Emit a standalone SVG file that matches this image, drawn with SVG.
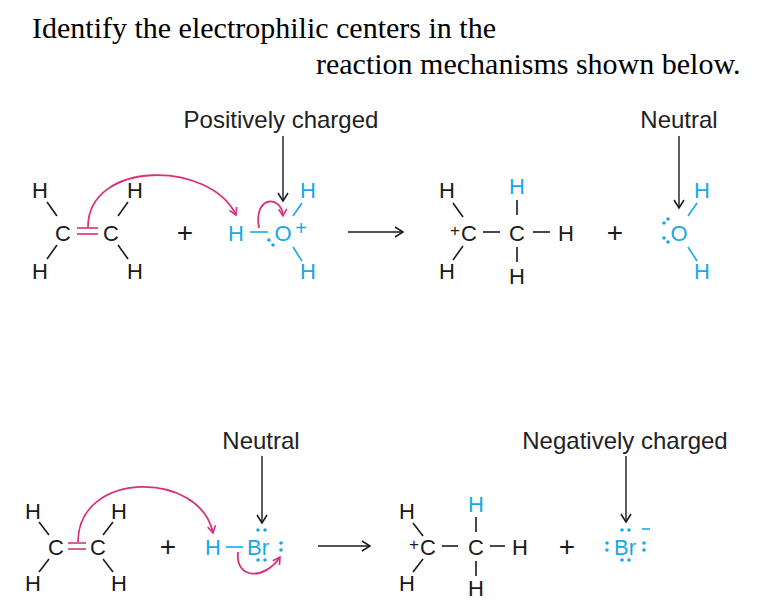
<svg xmlns="http://www.w3.org/2000/svg" width="765" height="612" viewBox="0 0 765 612">
<defs>
<style>
.t{font-family:"Liberation Serif",serif;font-size:30px;fill:#000}
.c{font-family:"Liberation Sans",Arial,sans-serif;font-size:22px;fill:#1a1a1a;text-anchor:middle}
.pl{font-family:"Liberation Sans",Arial,sans-serif;font-size:28px;fill:#1a1a1a;text-anchor:middle}
.b{fill:#1aa8e6}
.lb{font-family:"Liberation Sans",Arial,sans-serif;font-size:24px;fill:#222;text-anchor:middle}
.k{stroke:#1a1a1a;stroke-width:1.6;fill:none}
.kb{stroke:#1aa8e6;stroke-width:1.6;fill:none}
.p{stroke:#d9307a;stroke-width:1.8;fill:none;marker-end:url(#pa)}
.ar{stroke:#1a1a1a;stroke-width:1.4;fill:none;marker-end:url(#ka)}
</style>
<marker id="pa" markerWidth="10" markerHeight="10" refX="8" refY="5" orient="auto" markerUnits="userSpaceOnUse"><path d="M1,1 L8,5 L1,9" fill="none" stroke="#d9307a" stroke-width="1.6"/></marker>
<marker id="ka" markerWidth="12" markerHeight="12" refX="10" refY="6" orient="auto" markerUnits="userSpaceOnUse"><path d="M2,1 L10,6 L2,11" fill="none" stroke="#1a1a1a" stroke-width="1.5"/></marker>
</defs>
<rect width="765" height="612" fill="#fff"/>
<text class="t" x="32" y="38">Identify the electrophilic centers in the</text>
<text class="t" x="316" y="74">reaction mechanisms shown below.</text>

<g id="labels">
<text class="lb" x="281" y="128">Positively charged</text>
<text class="lb" x="679" y="128">Neutral</text>
<text class="lb" x="261" y="449">Neutral</text>
<text class="lb" x="625" y="449">Negatively charged</text>
</g>

<g id="ethene1">
<text class="c" x="40" y="198">H</text><text class="c" x="135" y="198">H</text>
<text class="c" x="40" y="279">H</text><text class="c" x="135" y="279">H</text>
<text class="c" x="63" y="241">C</text><text class="c" x="111" y="241">C</text>
<line class="k" x1="47" y1="202" x2="57" y2="216"/><line class="k" x1="128" y1="202" x2="118" y2="216"/>
<line class="k" x1="57" y1="245" x2="47" y2="259"/><line class="k" x1="118" y1="245" x2="128" y2="259"/>
<line x1="77" y1="228" x2="98" y2="228" stroke="#d9307a" stroke-width="1.6"/>
<line x1="77" y1="234" x2="98" y2="234" stroke="#d9307a" stroke-width="1.6"/>
</g>
<text class="pl" x="185" y="242">+</text>
<g id="hydronium">
<text class="c b" x="236" y="241">H</text>
<line class="kb" x1="250" y1="232" x2="268" y2="232"/>
<text class="c b" x="283" y="241">O</text>
<text class="c b" x="301" y="235" style="font-size:20px">+</text>
<circle cx="269" cy="240" r="1.8" fill="#1aa8e6"/><circle cx="273" cy="245" r="1.8" fill="#1aa8e6"/>
<text class="c b" x="308" y="198">H</text><text class="c b" x="308" y="279">H</text>
<line class="kb" x1="302" y1="203" x2="293" y2="216"/><line class="kb" x1="293" y1="247" x2="302" y2="261"/>
</g>
<line class="ar" x1="348" y1="232" x2="403" y2="232"/>
<g id="cation1">
<text class="c" x="447" y="198">H</text><text class="c" x="447" y="279">H</text>
<text class="c" x="455" y="236" style="font-size:17px">+</text>
<text class="c" x="469" y="241">C</text>
<line class="k" x1="453" y1="203" x2="463" y2="217"/><line class="k" x1="463" y1="246" x2="453" y2="260"/>
<line class="k" x1="483" y1="232" x2="500" y2="232"/>
<text class="c" x="517" y="241">C</text>
<line class="k" x1="533" y1="232" x2="550" y2="232"/>
<text class="c" x="566" y="241">H</text>
<text class="c b" x="517" y="194">H</text>
<line class="k" x1="517" y1="200" x2="517" y2="215"/>
<line class="k" x1="517" y1="247" x2="517" y2="262"/>
<text class="c" x="517" y="284">H</text>
</g>
<text class="pl" x="615" y="242">+</text>
<g id="water">
<text class="c b" x="679" y="241">O</text>
<circle cx="664" cy="223" r="1.8" fill="#1aa8e6"/><circle cx="668" cy="219" r="1.8" fill="#1aa8e6"/>
<circle cx="664" cy="238" r="1.8" fill="#1aa8e6"/><circle cx="668" cy="242" r="1.8" fill="#1aa8e6"/>
<text class="c b" x="702" y="198">H</text><text class="c b" x="702" y="279">H</text>
<line class="kb" x1="697" y1="203" x2="688" y2="216"/><line class="kb" x1="688" y1="247" x2="697" y2="261"/>
</g>

<g id="ethene2">
<text class="c" x="33" y="519">H</text><text class="c" x="119" y="519">H</text>
<text class="c" x="33" y="591">H</text><text class="c" x="119" y="591">H</text>
<text class="c" x="56" y="555">C</text><text class="c" x="98" y="555">C</text>
<line class="k" x1="39" y1="522" x2="49" y2="535"/><line class="k" x1="113" y1="522" x2="103" y2="535"/>
<line class="k" x1="49" y1="559" x2="39" y2="572"/><line class="k" x1="103" y1="559" x2="113" y2="572"/>
<line x1="68" y1="543" x2="86" y2="543" stroke="#d9307a" stroke-width="1.6"/>
<line x1="68" y1="549" x2="86" y2="549" stroke="#d9307a" stroke-width="1.6"/>
</g>
<text class="pl" x="168" y="556">+</text>
<g id="hbr">
<text class="c b" x="213" y="555">H</text>
<line class="kb" x1="226" y1="547" x2="243" y2="547"/>
<text class="c b" x="258" y="555">Br</text>
<circle cx="258" cy="530" r="1.8" fill="#1aa8e6"/><circle cx="265" cy="530" r="1.8" fill="#1aa8e6"/>
<circle cx="258" cy="560" r="1.8" fill="#1aa8e6"/><circle cx="265" cy="560" r="1.8" fill="#1aa8e6"/>
<circle cx="281" cy="543" r="1.8" fill="#1aa8e6"/><circle cx="281" cy="550" r="1.8" fill="#1aa8e6"/>
</g>
<line class="ar" x1="318" y1="546" x2="370" y2="546"/>
<g id="cation2">
<text class="c" x="407" y="519">H</text><text class="c" x="407" y="591">H</text>
<text class="c" x="414" y="550" style="font-size:17px">+</text>
<text class="c" x="428" y="555">C</text>
<line class="k" x1="413" y1="523" x2="423" y2="536"/><line class="k" x1="423" y1="559" x2="413" y2="572"/>
<line class="k" x1="442" y1="546" x2="458" y2="546"/>
<text class="c" x="476" y="555">C</text>
<line class="k" x1="490" y1="546" x2="505" y2="546"/>
<text class="c" x="520" y="555">H</text>
<text class="c b" x="476" y="512">H</text>
<line class="k" x1="476" y1="517" x2="476" y2="532"/>
<line class="k" x1="476" y1="561" x2="476" y2="576"/>
<text class="c" x="476" y="596">H</text>
</g>
<text class="pl" x="567" y="556">+</text>
<g id="bromide">
<text class="c b" x="625" y="555">Br</text>
<circle cx="607" cy="543" r="1.8" fill="#1aa8e6"/><circle cx="607" cy="550" r="1.8" fill="#1aa8e6"/>
<circle cx="644" cy="543" r="1.8" fill="#1aa8e6"/><circle cx="644" cy="550" r="1.8" fill="#1aa8e6"/>
<circle cx="622" cy="530" r="1.8" fill="#1aa8e6"/><circle cx="629" cy="530" r="1.8" fill="#1aa8e6"/>
<circle cx="622" cy="560" r="1.8" fill="#1aa8e6"/><circle cx="629" cy="560" r="1.8" fill="#1aa8e6"/>
<line class="kb" x1="642" y1="529" x2="650" y2="529"/>
</g>

<g id="connectors">
<line class="ar" x1="283" y1="136" x2="283" y2="201"/>
<line class="ar" x1="679" y1="136" x2="679" y2="208"/>
<line class="ar" x1="262" y1="456" x2="262" y2="523"/>
<line class="ar" x1="626" y1="456" x2="626" y2="522"/>
<path class="p" d="M88,227 C88,160 210,160 236,215"/>
<path class="p" d="M259,228 C253,195 282,195 283,216"/>
<path class="p" d="M78,542 C78,470 200,470 213,533"/>
<path class="p" d="M238,552 C235,580 265,580 280,557"/>
</g>
</svg>
